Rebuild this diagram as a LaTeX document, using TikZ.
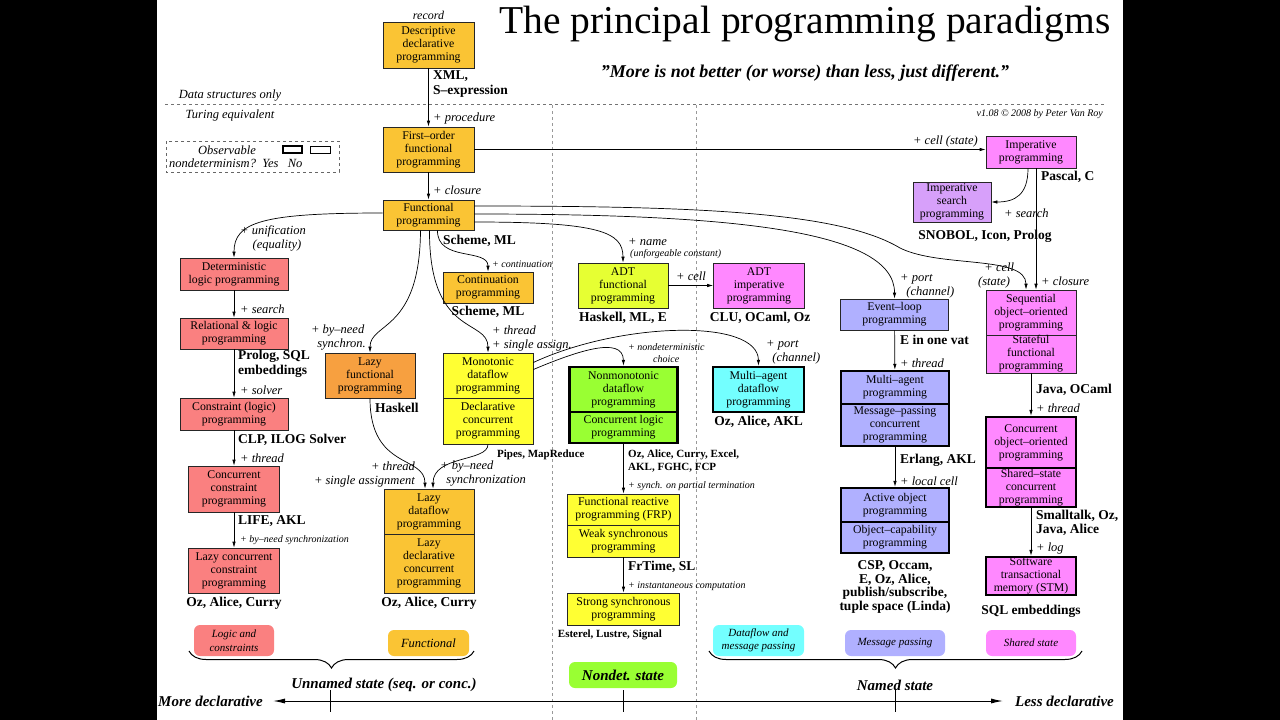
\documentclass[tikz,border=0pt]{standalone}
\usepackage{fontspec}
\setmainfont{Liberation Serif}
\usetikzlibrary{arrows.meta,decorations.pathreplacing}
\definecolor{cOr}{RGB}{250,196,52}
\definecolor{cLz}{RGB}{247,160,64}
\definecolor{cRd}{RGB}{250,128,128}
\definecolor{cYl}{RGB}{255,255,51}
\definecolor{cYg}{RGB}{230,255,51}
\definecolor{cGr}{RGB}{153,255,51}
\definecolor{cCy}{RGB}{115,255,255}
\definecolor{cPk}{RGB}{255,136,255}
\definecolor{cLv}{RGB}{215,160,250}
\definecolor{cBl}{RGB}{176,176,255}
\tikzset{
 box/.style={draw=black!85, line width=0.7pt, inner sep=0pt, align=center, font=\fontsize{11.8}{13}\selectfont},
 tb/.style={line width=2.4pt, draw=black},
 it/.style={font=\fontsize{12.5}{14}\selectfont\itshape, inner sep=0pt, anchor=west, align=left},
 its/.style={font=\fontsize{10}{11.5}\selectfont\itshape, inner sep=0pt, anchor=west, align=left},
 bd/.style={font=\fontsize{13.5}{14.5}\selectfont\bfseries, inner sep=0pt, anchor=west, align=left},
 bds/.style={font=\fontsize{11}{13}\selectfont\bfseries, inner sep=0pt, anchor=west, align=left},
 ar/.style={-{Latex[length=6pt,width=3.5pt]}, line width=0.7pt},
 pill/.style={rounded corners=6pt, inner sep=0pt, align=center, font=\fontsize{11}{13.5}\selectfont\itshape},
 gd/.style={draw=black!40, dashed, line width=0.6pt}
}
\begin{document}
\begin{tikzpicture}[x=1pt,y=-1pt]
\useasboundingbox (0,0) rectangle (1280,720);
\fill[black] (0,0) rectangle (1280,720);
\fill[white] (157,0) rectangle (1123,720);
% dashed separators
\draw[gd, draw=black!55] (165,104) -- (1105,104);
\draw[gd] (552,105) -- (552,720);
\draw[gd] (696,105) -- (696,720);
% title
\node[font=\fontsize{39.5}{41}\selectfont, inner sep=0pt] (title) at (805,24) {The principal programming paradigms};
\node[font=\fontsize{18}{20}\selectfont\bfseries\itshape, inner sep=0pt] (quote) at (805,73) {\char34 More is not better (or worse) than less, just different.\char34};
\node[font=\fontsize{10}{11}\selectfont\itshape, inner sep=0pt, anchor=east] (ver) at (1103,114) {v1.08 © 2008 by Peter Van Roy};
\node[it, anchor=center] (dso) at (230,96) {Data structures only};
\node[it, anchor=center] (tur) at (230,115) {Turing equivalent};
% legend
\draw[gd, draw=black!60] (166,141) rectangle (339,172);
\node[it, anchor=center] (obs) at (227,150) {Observable};
\node[it, anchor=west] (nd) at (169,163) {nondeterminism?\ \ Yes\ \ \ No};
\draw[line width=2pt] (283,146) rectangle (302,153);
\draw[line width=0.6pt] (310,146) rectangle (330,153);
% boxes
\node[box, fill=cOr, minimum width=91, minimum height=46] (dd) at (428.5,45) {Descriptive\\declarative\\programming};
\node[box, fill=cOr, minimum width=91, minimum height=45] (fo) at (428.5,149.5) {First--order\\functional\\programming};
\node[box, fill=cOr, minimum width=91, minimum height=30] (fp) at (428.5,215) {Functional\\programming};
\node[box, fill=cPk, minimum width=90, minimum height=32] (imp) at (1031,152) {Imperative\\programming};
\node[box, fill=cLv, minimum width=78, minimum height=40] (ims) at (952,202) {Imperative\\search\\programming};
\node[box, fill=cRd, minimum width=108, minimum height=32] (dl) at (234,274) {Deterministic\\logic programming};
\node[box, fill=cRd, minimum width=108, minimum height=31] (rl) at (234,333.5) {Relational \& logic\\programming};
\node[box, fill=cRd, minimum width=108, minimum height=32] (cl) at (234,414) {Constraint (logic)\\programming};
\node[box, fill=cRd, minimum width=91, minimum height=46] (cc) at (234,489) {Concurrent\\constraint\\programming};
\node[box, fill=cRd, minimum width=91, minimum height=45] (lcc) at (234,570.5) {Lazy concurrent\\constraint\\programming};
\node[box, fill=cLz, minimum width=90, minimum height=45] (lf) at (370,375.5) {Lazy\\functional\\programming};
\node[box, fill=cOr, minimum width=90, minimum height=31] (cont) at (488,287.5) {Continuation\\programming};
\node[box, fill=cYl, minimum width=90, minimum height=45] (mono) at (488,375.5) {Monotonic\\dataflow\\programming};
\node[box, fill=cYl, minimum width=90, minimum height=46] (declc) at (488,421) {Declarative\\concurrent\\programming};
\node[box, fill=cOr, minimum width=90, minimum height=45] (ldf) at (429,511.5) {Lazy\\dataflow\\programming};
\node[box, fill=cOr, minimum width=90, minimum height=59] (ldc) at (429,563.5) {Lazy\\declarative\\concurrent\\programming};
\node[box, fill=cYg, minimum width=90, minimum height=45] (adtf) at (623,285.5) {ADT\\functional\\programming};
\node[box, fill=cPk, minimum width=91, minimum height=45] (adti) at (759,285.5) {ADT\\imperative\\programming};
\node[box, tb, fill=cGr, minimum width=108, minimum height=45] (nmd) at (623.5,389.5) {Nonmonotonic\\dataflow\\programming};
\node[box, tb, fill=cGr, minimum width=108, minimum height=31] (clp) at (623.5,427.5) {Concurrent logic\\programming};
\node[box, tb, fill=cCy, minimum width=91, minimum height=45] (mad) at (758.5,389.5) {Multi--agent\\dataflow\\programming};
\node[box, fill=cBl, minimum width=108, minimum height=31] (el) at (894.5,314.5) {Event--loop\\programming};
\node[box, tb, fill=cBl, minimum width=108, minimum height=33] (map) at (895,387.5) {Multi--agent\\programming};
\node[box, tb, fill=cBl, minimum width=108, minimum height=42] (mpc) at (895,425) {Message--passing\\concurrent\\programming};
\node[box, tb, fill=cBl, minimum width=108, minimum height=34] (ao) at (895,505) {Active object\\programming};
\node[box, tb, fill=cBl, minimum width=108, minimum height=31] (ocp) at (895,537.5) {Object--capability\\programming};
\node[box, fill=cPk, minimum width=90, minimum height=45] (soo) at (1031,312.5) {Sequential\\object--oriented\\programming};
\node[box, fill=cPk, minimum width=90, minimum height=38] (sf) at (1031,354) {Stateful\\functional\\programming};
\node[box, tb, fill=cPk, minimum width=90, minimum height=51] (coo) at (1031,442.5) {Concurrent\\object--oriented\\programming};
\node[box, tb, fill=cPk, minimum width=90, minimum height=39] (ssc) at (1031,487.5) {Shared--state\\concurrent\\programming};
\node[box, tb, fill=cPk, minimum width=90, minimum height=38] (stm) at (1031,576) {Software\\transactional\\memory (STM)};
\node[box, fill=cYl, minimum width=112, minimum height=31] (frp) at (623.5,509.5) {Functional reactive\\programming (FRP)};
\node[box, fill=cYl, minimum width=112, minimum height=32] (ws) at (623.5,541) {Weak synchronous\\programming};
\node[box, fill=cYl, minimum width=112, minimum height=32] (ss) at (623.5,609) {Strong synchronous\\programming};
% edges
\draw[ar] (dd) -- (fo);
\draw[ar] (fo) -- (fp);
\draw[ar] (fo.east) -- (fo.east -| imp.west);
\draw[ar] ([xshift=-3]imp.south) .. controls (1028,195) and (1015,202) .. (ims.east);
\draw[ar] ([xshift=5]imp.south) -- ([xshift=5]soo.north);
\draw[ar] ([yshift=9]fp.east) .. controls (700,206) and (840,212) .. (900,248) .. controls (940,268) and (1026,255) .. ([xshift=-5]soo.north);
\draw[ar] ([yshift=1]fp.east) .. controls (720,214) and (895,228) .. (el.north);
\draw[ar] ([yshift=-7]fp.east) .. controls (600,222) and (623,232) .. (adtf.north);
\draw[ar] ([yshift=2]fp.west) .. controls (262,213) and (234,222) .. (dl.north);
\draw[ar] ([xshift=-8]fp.south) .. controls (420,332) and (370,322) .. (lf.north);
\draw[ar] ([xshift=1]fp.south) .. controls (429,338) and (488,318) .. (mono.north);
\draw[ar] ([xshift=9]fp.south) .. controls (437,262) and (488,248) .. (cont.north);
\draw[ar] (dl) -- (rl);
\draw[ar] (rl) -- (cl);
\draw[ar] (cl) -- (cc);
\draw[ar] (cc) -- (lcc);
\draw[ar] (adtf) -- (adti);
\draw[ar] ([yshift=6]mono.east) .. controls (575,352) and (623,335) .. (nmd.north);
\draw[ar] ([yshift=13]mono.east) .. controls (620,322) and (758,318) .. (mad.north);
\draw[ar] (clp) -- (frp);
\draw[ar] (ws) -- (ss);
\draw[ar] (lf.south) .. controls (370,470) and (425,455) .. ([xshift=-4]ldf.north);
\draw[ar] (declc.south) .. controls (488,462) and (433,455) .. ([xshift=4]ldf.north);
\draw[ar] (el) -- (map);
\draw[ar] (mpc) -- (ao);
\draw[ar] (sf) -- (coo);
\draw[ar] (ssc) -- (stm);
% labels
\node[its, anchor=south] (lrec) at (428.5,20) {\fontsize{12}{13}\selectfont record};
\node[bd] (lxml) at (433,84) {XML,\\S--expression};
\node[it] (lproc) at (433,118) {+ procedure};
\node[it] (lclos) at (433,190) {+ closure};
\node[it, anchor=east] (lcell) at (978,141) {+ cell (state)};
\node[bd] (lpas) at (1041,177) {Pascal, C};
\node[it] (lsrch) at (1004,213) {+ search};
\node[bd, anchor=center] (lsno) at (985,236) {SNOBOL, Icon, Prolog};
\node[it, align=left] (lcs) at (978,275) {\ \ + cell\\(state)};
\node[it] (lclo2) at (1041,281) {+ closure};
\node[it] (lport) at (900,286) {+ port\\\ \ (channel)};
\node[it] (lname) at (628,242) {+ name};
\node[its] (lunf) at (630,254) {(unforgeable constant)};
\node[it] (lcl2) at (676,276) {+ cell};
\node[bd, anchor=center] (lhas) at (623,318) {Haskell, ML, E};
\node[bd, anchor=center] (lclu) at (760,318) {CLU, OCaml, Oz};
\node[bd] (lsch) at (443,241) {Scheme, ML};
\node[its] (lcont) at (492,264) {+ continuation};
\node[bd, anchor=center] (lsch2) at (488,312) {Scheme, ML};
\node[it] (lthr) at (492,338) {+ thread\\+ single assign.};
\node[it, anchor=east, align=left] (lbyn) at (366,338) {+ by--need\\\ \ synchron.};
\node[it] (lunif) at (240,238) {+ unification\\\ \ \ \ (equality)};
\node[it] (lsea) at (240,309) {+ search};
\node[bd] (lpro) at (238,364) {Prolog, SQL\\embeddings};
\node[it] (lsol) at (240,390) {+ solver};
\node[bd] (lclp) at (238,440) {CLP, ILOG Solver};
\node[it] (lthr2) at (240,458) {+ thread};
\node[bd] (llife) at (238,521) {LIFE, AKL};
\node[its] (lbyn2) at (240,540) {+ by--need synchronization};
\node[bd, anchor=center] (loz1) at (234,603) {Oz, Alice, Curry};
\node[bd, anchor=center] (loz2) at (429,603) {Oz, Alice, Curry};
\node[bd] (lhsk) at (375,408) {Haskell};
\node[bds] (lpipe) at (497,455) {Pipes, MapReduce};
\node[it, anchor=east, align=right] (lthr3) at (415,474) {+ thread\\+ single assignment};
\node[it, align=left] (lbyn3) at (440,474) {+ by--need\\\ \ synchronization};
\node[its] (lndc) at (628,353) {+ nondeterministic\\\ \ \ \ \ \ \ \ \ \ choice};
\node[it] (lport2) at (766,352) {+ port\\\ \ (channel)};
\node[bd, anchor=center] (lozak) at (758.5,422) {Oz, Alice, AKL};
\node[bds] (lozc) at (628,461) {Oz, Alice, Curry, Excel,\\AKL, FGHC, FCP};
\node[its] (lsyn) at (628,486) {+ synch. on partial termination};
\node[bd] (lfrt) at (628,567) {FrTime, SL};
\node[its] (linst) at (628,586) {+ instantaneous computation};
\node[bds, anchor=center] (lest) at (610,635) {Esterel, Lustre, Signal};
\node[bd] (levat) at (900,340) {E in one vat};
\node[it] (lthr4) at (900,363) {+ thread};
\node[bd] (lerl) at (900,460) {Erlang, AKL};
\node[it] (lloc) at (900,481) {+ local cell};
\node[bd, anchor=center, align=center, font=\fontsize{13.5}{13.5}\selectfont\bfseries] (lcsp) at (895,587) {CSP, Occam,\\E, Oz, Alice,\\publish/subscribe,\\tuple space (Linda)};
\node[bd] (ljav) at (1036,390) {Java, OCaml};
\node[it] (lthr5) at (1036,408) {+ thread};
\node[bd] (lsmt) at (1036,523) {Smalltalk, Oz,\\Java, Alice};
\node[it] (llog) at (1036,548) {+ log};
\node[bd, anchor=center] (lsql) at (1031,611) {SQL embeddings};
% legend pills
\node[pill, fill=cRd, minimum width=80, minimum height=31] (pl) at (234,640.5) {Logic and\\constraints};
\node[pill, fill=cOr, minimum width=81, minimum height=26, font=\fontsize{12.5}{14}\selectfont\itshape] (pf) at (428.5,643) {Functional};
\node[pill, fill=cGr, minimum width=108, minimum height=26, font=\fontsize{15}{17}\selectfont\bfseries\itshape] (pn) at (623,675) {Nondet. state};
\node[pill, fill=cCy, minimum width=91, minimum height=31] (pd) at (758.5,640.5) {Dataflow and\\message passing};
\node[pill, fill=cBl, minimum width=100, minimum height=26] (pm) at (895,643) {Message passing};
\node[pill, fill=cPk, minimum width=90, minimum height=26] (ps) at (1031,643) {Shared state};
% braces
\draw[decorate, decoration={brace, mirror, amplitude=17pt}, line width=1pt] (189,651) -- (474,651);
\draw[decorate, decoration={brace, mirror, amplitude=17pt}, line width=1pt] (709,651) -- (1082,651);
\node[font=\fontsize{15}{17}\selectfont\bfseries\itshape, inner sep=0pt] (lun) at (384,685) {Unnamed state (seq. or conc.)};
\node[font=\fontsize{15}{17}\selectfont\bfseries\itshape, inner sep=0pt] (lnam) at (895,685) {Named state};
% axis
\node[font=\fontsize{15}{17}\selectfont\bfseries\itshape, inner sep=0pt, anchor=west] (lmore) at (158,701) {More declarative};
\node[font=\fontsize{15}{17}\selectfont\bfseries\itshape, inner sep=0pt, anchor=east] (lless) at (1114,701) {Less declarative};
\coordinate (axl) at (273,701);
\coordinate (axr) at (1003,701);
\draw[{Latex[length=12pt,width=5pt]}-{Latex[length=12pt,width=5pt]}, line width=1pt] (axl) -- (axr);
\draw[line width=1pt] (330,690) -- (330,712);
\draw[line width=1pt] (623,690) -- (623,712);
\draw[line width=1pt] (895,690) -- (895,712);
\end{tikzpicture}
\end{document}
